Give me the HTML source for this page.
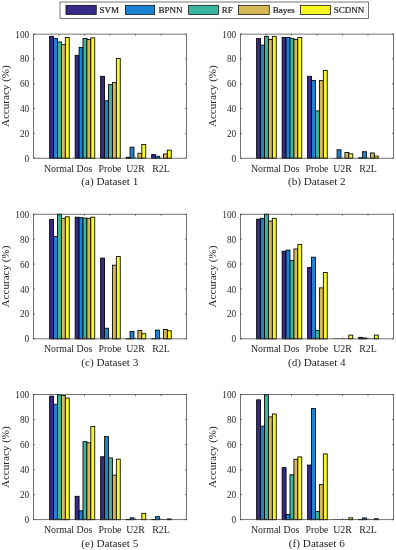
<!DOCTYPE html>
<html><head><meta charset="utf-8"><title>Accuracy comparison</title>
<style>html,body{margin:0;padding:0;background:#fff}svg{display:block}</style></head>
<body>
<svg width="396" height="550" viewBox="0 0 396 550" font-family="Liberation Serif, serif" fill="#262626">
<defs><filter id="bl" x="-5%" y="-5%" width="110%" height="110%"><feGaussianBlur stdDeviation="0.35"/></filter></defs>
<rect width="396" height="550" fill="#fff"/>
<rect x="60" y="2.0" width="308.5" height="16.5" fill="#fff" stroke="#555" stroke-width="0.8"/>
<rect x="65.95" y="5.3" width="30.299999999999997" height="9.100000000000001" fill="#352A87" stroke="#000" stroke-width="0.7"/>
<text x="99.5" y="12.7" font-size="9.0" stroke="#262626" stroke-width="0.22">SVM</text>
<rect x="125.35" y="5.3" width="29.30000000000001" height="9.100000000000001" fill="#1A82D2" stroke="#000" stroke-width="0.7"/>
<text x="158.6" y="12.7" font-size="9.0" stroke="#262626" stroke-width="0.22">BPNN</text>
<rect x="188.65" y="5.3" width="29.799999999999983" height="9.100000000000001" fill="#38B79E" stroke="#000" stroke-width="0.7"/>
<text x="221.8" y="12.7" font-size="9.0" stroke="#262626" stroke-width="0.22">RF</text>
<rect x="238.55" y="5.3" width="30.69999999999999" height="9.100000000000001" fill="#D6B857" stroke="#000" stroke-width="0.7"/>
<text x="272.8" y="12.7" font-size="9.0" stroke="#262626" stroke-width="0.22">Bayes</text>
<rect x="300.35" y="5.3" width="30.299999999999955" height="9.100000000000001" fill="#F9F824" stroke="#000" stroke-width="0.7"/>
<text x="333.8" y="12.7" font-size="9.0" stroke="#262626" stroke-width="0.22">SCDNN</text>
<g filter="url(#bl)">
<rect x="49.65" y="36.33" width="3.92" height="121.87" fill="#352A87" stroke="#000" stroke-width="0.85"/>
<rect x="53.57" y="38.57" width="3.92" height="119.63" fill="#1A82D2" stroke="#000" stroke-width="0.85"/>
<rect x="57.49" y="41.92" width="3.92" height="116.28" fill="#38B79E" stroke="#000" stroke-width="0.85"/>
<rect x="61.41" y="44.65" width="3.92" height="113.55" fill="#D6B857" stroke="#000" stroke-width="0.85"/>
<rect x="65.33" y="37.45" width="3.92" height="120.75" fill="#F9F824" stroke="#000" stroke-width="0.85"/>
<rect x="75.15" y="55.32" width="3.92" height="102.88" fill="#352A87" stroke="#000" stroke-width="0.85"/>
<rect x="79.07" y="47.38" width="3.92" height="110.82" fill="#1A82D2" stroke="#000" stroke-width="0.85"/>
<rect x="82.99" y="38.57" width="3.92" height="119.63" fill="#38B79E" stroke="#000" stroke-width="0.85"/>
<rect x="86.91" y="39.44" width="3.92" height="118.76" fill="#D6B857" stroke="#000" stroke-width="0.85"/>
<rect x="90.83" y="37.82" width="3.92" height="120.38" fill="#F9F824" stroke="#000" stroke-width="0.85"/>
<rect x="100.65" y="76.29" width="3.92" height="81.91" fill="#352A87" stroke="#000" stroke-width="0.85"/>
<rect x="104.57" y="100.74" width="3.92" height="57.46" fill="#1A82D2" stroke="#000" stroke-width="0.85"/>
<rect x="108.49" y="84.61" width="3.92" height="73.59" fill="#38B79E" stroke="#000" stroke-width="0.85"/>
<rect x="112.41" y="82.50" width="3.92" height="75.70" fill="#D6B857" stroke="#000" stroke-width="0.85"/>
<rect x="116.33" y="58.55" width="3.92" height="99.65" fill="#F9F824" stroke="#000" stroke-width="0.85"/>
<rect x="126.15" y="157.33" width="3.92" height="0.87" fill="#352A87" stroke="#000" stroke-width="0.85"/>
<rect x="130.07" y="147.16" width="3.92" height="11.04" fill="#1A82D2" stroke="#000" stroke-width="0.85"/>
<rect x="133.99" y="158.18" width="3.92" height="0.02" fill="#38B79E" stroke="#000" stroke-width="0.35"/>
<rect x="137.91" y="153.24" width="3.92" height="4.96" fill="#D6B857" stroke="#000" stroke-width="0.85"/>
<rect x="141.83" y="144.42" width="3.92" height="13.78" fill="#F9F824" stroke="#000" stroke-width="0.85"/>
<rect x="151.65" y="154.60" width="3.92" height="3.60" fill="#352A87" stroke="#000" stroke-width="0.85"/>
<rect x="155.57" y="156.21" width="3.92" height="1.99" fill="#1A82D2" stroke="#000" stroke-width="0.85"/>
<rect x="159.49" y="158.18" width="3.92" height="0.02" fill="#38B79E" stroke="#000" stroke-width="0.35"/>
<rect x="163.41" y="153.98" width="3.92" height="4.22" fill="#D6B857" stroke="#000" stroke-width="0.85"/>
<rect x="167.33" y="150.13" width="3.92" height="8.07" fill="#F9F824" stroke="#000" stroke-width="0.85"/>
</g>
<rect x="33.5" y="34.1" width="153.0" height="124.1" fill="none" stroke="#3a3a3a" stroke-width="0.7"/>
<path d="M59.00 158.2v-1.5M59.00 34.1v1.5M84.50 158.2v-1.5M84.50 34.1v1.5M110.00 158.2v-1.5M110.00 34.1v1.5M135.50 158.2v-1.5M135.50 34.1v1.5M161.00 158.2v-1.5M161.00 34.1v1.5M33.5 158.20h1.5M186.5 158.20h-1.5M33.5 133.38h1.5M186.5 133.38h-1.5M33.5 108.56h1.5M186.5 108.56h-1.5M33.5 83.74h1.5M186.5 83.74h-1.5M33.5 58.92h1.5M186.5 58.92h-1.5M33.5 34.10h1.5M186.5 34.10h-1.5" stroke="#3a3a3a" stroke-width="0.7" fill="none"/>
<text x="29.2" y="161.75" font-size="9.3" text-anchor="end">0</text>
<text x="29.2" y="136.93" font-size="9.3" text-anchor="end">20</text>
<text x="29.2" y="112.11" font-size="9.3" text-anchor="end">40</text>
<text x="29.2" y="87.29" font-size="9.3" text-anchor="end">60</text>
<text x="29.2" y="62.47" font-size="9.3" text-anchor="end">80</text>
<text x="29.2" y="37.65" font-size="9.3" text-anchor="end">100</text>
<text x="59.00" y="171.50" font-size="9.9" text-anchor="middle">Normal</text>
<text x="84.50" y="171.50" font-size="9.9" text-anchor="middle">Dos</text>
<text x="110.00" y="171.50" font-size="9.9" text-anchor="middle">Probe</text>
<text x="135.50" y="171.50" font-size="9.9" text-anchor="middle">U2R</text>
<text x="161.00" y="171.50" font-size="9.9" text-anchor="middle">R2L</text>
<text transform="translate(9.40 96.15) rotate(-90)" font-size="11.1" text-anchor="middle">Accuracy (%)</text>
<text x="109.80" y="185.05" font-size="11.2" text-anchor="middle">(a) Dataset 1</text>
<g filter="url(#bl)">
<rect x="256.65" y="38.57" width="3.92" height="119.63" fill="#352A87" stroke="#000" stroke-width="0.85"/>
<rect x="260.57" y="45.14" width="3.92" height="113.06" fill="#1A82D2" stroke="#000" stroke-width="0.85"/>
<rect x="264.49" y="36.33" width="3.92" height="121.87" fill="#38B79E" stroke="#000" stroke-width="0.85"/>
<rect x="268.41" y="39.44" width="3.92" height="118.76" fill="#D6B857" stroke="#000" stroke-width="0.85"/>
<rect x="272.33" y="36.33" width="3.92" height="121.87" fill="#F9F824" stroke="#000" stroke-width="0.85"/>
<rect x="282.15" y="37.57" width="3.92" height="120.63" fill="#352A87" stroke="#000" stroke-width="0.85"/>
<rect x="286.07" y="37.45" width="3.92" height="120.75" fill="#1A82D2" stroke="#000" stroke-width="0.85"/>
<rect x="289.99" y="38.32" width="3.92" height="119.88" fill="#38B79E" stroke="#000" stroke-width="0.85"/>
<rect x="293.91" y="39.44" width="3.92" height="118.76" fill="#D6B857" stroke="#000" stroke-width="0.85"/>
<rect x="297.83" y="37.45" width="3.92" height="120.75" fill="#F9F824" stroke="#000" stroke-width="0.85"/>
<rect x="307.65" y="76.29" width="3.92" height="81.91" fill="#352A87" stroke="#000" stroke-width="0.85"/>
<rect x="311.57" y="80.39" width="3.92" height="77.81" fill="#1A82D2" stroke="#000" stroke-width="0.85"/>
<rect x="315.49" y="110.92" width="3.92" height="47.28" fill="#38B79E" stroke="#000" stroke-width="0.85"/>
<rect x="319.41" y="80.39" width="3.92" height="77.81" fill="#D6B857" stroke="#000" stroke-width="0.85"/>
<rect x="323.33" y="70.34" width="3.92" height="87.86" fill="#F9F824" stroke="#000" stroke-width="0.85"/>
<rect x="333.15" y="158.18" width="3.92" height="0.02" fill="#352A87" stroke="#000" stroke-width="0.35"/>
<rect x="337.07" y="149.76" width="3.92" height="8.44" fill="#1A82D2" stroke="#000" stroke-width="0.85"/>
<rect x="340.99" y="158.18" width="3.92" height="0.02" fill="#38B79E" stroke="#000" stroke-width="0.35"/>
<rect x="344.91" y="152.49" width="3.92" height="5.71" fill="#D6B857" stroke="#000" stroke-width="0.85"/>
<rect x="348.83" y="153.86" width="3.92" height="4.34" fill="#F9F824" stroke="#000" stroke-width="0.85"/>
<rect x="358.65" y="157.83" width="3.92" height="0.37" fill="#352A87" stroke="#000" stroke-width="0.85"/>
<rect x="362.57" y="151.75" width="3.92" height="6.45" fill="#1A82D2" stroke="#000" stroke-width="0.85"/>
<rect x="366.49" y="158.18" width="3.92" height="0.02" fill="#38B79E" stroke="#000" stroke-width="0.35"/>
<rect x="370.41" y="152.99" width="3.92" height="5.21" fill="#D6B857" stroke="#000" stroke-width="0.85"/>
<rect x="374.33" y="156.09" width="3.92" height="2.11" fill="#F9F824" stroke="#000" stroke-width="0.85"/>
</g>
<rect x="240.5" y="34.1" width="153.0" height="124.1" fill="none" stroke="#3a3a3a" stroke-width="0.7"/>
<path d="M266.00 158.2v-1.5M266.00 34.1v1.5M291.50 158.2v-1.5M291.50 34.1v1.5M317.00 158.2v-1.5M317.00 34.1v1.5M342.50 158.2v-1.5M342.50 34.1v1.5M368.00 158.2v-1.5M368.00 34.1v1.5M240.5 158.20h1.5M393.5 158.20h-1.5M240.5 133.38h1.5M393.5 133.38h-1.5M240.5 108.56h1.5M393.5 108.56h-1.5M240.5 83.74h1.5M393.5 83.74h-1.5M240.5 58.92h1.5M393.5 58.92h-1.5M240.5 34.10h1.5M393.5 34.10h-1.5" stroke="#3a3a3a" stroke-width="0.7" fill="none"/>
<text x="236.2" y="161.75" font-size="9.3" text-anchor="end">0</text>
<text x="236.2" y="136.93" font-size="9.3" text-anchor="end">20</text>
<text x="236.2" y="112.11" font-size="9.3" text-anchor="end">40</text>
<text x="236.2" y="87.29" font-size="9.3" text-anchor="end">60</text>
<text x="236.2" y="62.47" font-size="9.3" text-anchor="end">80</text>
<text x="236.2" y="37.65" font-size="9.3" text-anchor="end">100</text>
<text x="266.00" y="171.50" font-size="9.9" text-anchor="middle">Normal</text>
<text x="291.50" y="171.50" font-size="9.9" text-anchor="middle">Dos</text>
<text x="317.00" y="171.50" font-size="9.9" text-anchor="middle">Probe</text>
<text x="342.50" y="171.50" font-size="9.9" text-anchor="middle">U2R</text>
<text x="368.00" y="171.50" font-size="9.9" text-anchor="middle">R2L</text>
<text transform="translate(216.40 96.15) rotate(-90)" font-size="11.1" text-anchor="middle">Accuracy (%)</text>
<text x="316.80" y="185.05" font-size="11.2" text-anchor="middle">(b) Dataset 2</text>
<g filter="url(#bl)">
<rect x="49.65" y="219.56" width="3.92" height="119.29" fill="#352A87" stroke="#000" stroke-width="0.85"/>
<rect x="53.57" y="236.51" width="3.92" height="102.34" fill="#1A82D2" stroke="#000" stroke-width="0.85"/>
<rect x="57.49" y="214.20" width="3.92" height="124.65" fill="#38B79E" stroke="#000" stroke-width="0.85"/>
<rect x="61.41" y="218.31" width="3.92" height="120.54" fill="#D6B857" stroke="#000" stroke-width="0.85"/>
<rect x="65.33" y="216.82" width="3.92" height="122.03" fill="#F9F824" stroke="#000" stroke-width="0.85"/>
<rect x="75.15" y="217.19" width="3.92" height="121.66" fill="#352A87" stroke="#000" stroke-width="0.85"/>
<rect x="79.07" y="217.69" width="3.92" height="121.16" fill="#1A82D2" stroke="#000" stroke-width="0.85"/>
<rect x="82.99" y="218.06" width="3.92" height="120.79" fill="#38B79E" stroke="#000" stroke-width="0.85"/>
<rect x="86.91" y="218.31" width="3.92" height="120.54" fill="#D6B857" stroke="#000" stroke-width="0.85"/>
<rect x="90.83" y="217.19" width="3.92" height="121.66" fill="#F9F824" stroke="#000" stroke-width="0.85"/>
<rect x="100.65" y="258.08" width="3.92" height="80.77" fill="#352A87" stroke="#000" stroke-width="0.85"/>
<rect x="104.57" y="328.25" width="3.92" height="10.60" fill="#1A82D2" stroke="#000" stroke-width="0.85"/>
<rect x="108.49" y="338.83" width="3.92" height="0.02" fill="#38B79E" stroke="#000" stroke-width="0.35"/>
<rect x="112.41" y="265.18" width="3.92" height="73.67" fill="#D6B857" stroke="#000" stroke-width="0.85"/>
<rect x="116.33" y="256.58" width="3.92" height="82.27" fill="#F9F824" stroke="#000" stroke-width="0.85"/>
<rect x="126.15" y="338.66" width="3.92" height="0.19" fill="#352A87" stroke="#000" stroke-width="0.85"/>
<rect x="130.07" y="331.37" width="3.92" height="7.48" fill="#1A82D2" stroke="#000" stroke-width="0.85"/>
<rect x="133.99" y="338.83" width="3.92" height="0.02" fill="#38B79E" stroke="#000" stroke-width="0.35"/>
<rect x="137.91" y="330.37" width="3.92" height="8.48" fill="#D6B857" stroke="#000" stroke-width="0.85"/>
<rect x="141.83" y="333.74" width="3.92" height="5.11" fill="#F9F824" stroke="#000" stroke-width="0.85"/>
<rect x="151.65" y="338.66" width="3.92" height="0.19" fill="#352A87" stroke="#000" stroke-width="0.85"/>
<rect x="155.57" y="330.12" width="3.92" height="8.73" fill="#1A82D2" stroke="#000" stroke-width="0.85"/>
<rect x="159.49" y="338.83" width="3.92" height="0.02" fill="#38B79E" stroke="#000" stroke-width="0.35"/>
<rect x="163.41" y="329.50" width="3.92" height="9.35" fill="#D6B857" stroke="#000" stroke-width="0.85"/>
<rect x="167.33" y="330.75" width="3.92" height="8.10" fill="#F9F824" stroke="#000" stroke-width="0.85"/>
</g>
<rect x="33.5" y="214.2" width="153.0" height="124.65000000000003" fill="none" stroke="#3a3a3a" stroke-width="0.7"/>
<path d="M59.00 338.85v-1.5M59.00 214.2v1.5M84.50 338.85v-1.5M84.50 214.2v1.5M110.00 338.85v-1.5M110.00 214.2v1.5M135.50 338.85v-1.5M135.50 214.2v1.5M161.00 338.85v-1.5M161.00 214.2v1.5M33.5 338.85h1.5M186.5 338.85h-1.5M33.5 313.92h1.5M186.5 313.92h-1.5M33.5 288.99h1.5M186.5 288.99h-1.5M33.5 264.06h1.5M186.5 264.06h-1.5M33.5 239.13h1.5M186.5 239.13h-1.5M33.5 214.20h1.5M186.5 214.20h-1.5" stroke="#3a3a3a" stroke-width="0.7" fill="none"/>
<text x="29.2" y="342.40" font-size="9.3" text-anchor="end">0</text>
<text x="29.2" y="317.47" font-size="9.3" text-anchor="end">20</text>
<text x="29.2" y="292.54" font-size="9.3" text-anchor="end">40</text>
<text x="29.2" y="267.61" font-size="9.3" text-anchor="end">60</text>
<text x="29.2" y="242.68" font-size="9.3" text-anchor="end">80</text>
<text x="29.2" y="217.75" font-size="9.3" text-anchor="end">100</text>
<text x="59.00" y="352.15" font-size="9.9" text-anchor="middle">Normal</text>
<text x="84.50" y="352.15" font-size="9.9" text-anchor="middle">Dos</text>
<text x="110.00" y="352.15" font-size="9.9" text-anchor="middle">Probe</text>
<text x="135.50" y="352.15" font-size="9.9" text-anchor="middle">U2R</text>
<text x="161.00" y="352.15" font-size="9.9" text-anchor="middle">R2L</text>
<text transform="translate(9.40 276.52) rotate(-90)" font-size="11.1" text-anchor="middle">Accuracy (%)</text>
<text x="109.80" y="365.70" font-size="11.2" text-anchor="middle">(c) Dataset 3</text>
<g filter="url(#bl)">
<rect x="256.65" y="219.19" width="3.92" height="119.66" fill="#352A87" stroke="#000" stroke-width="0.85"/>
<rect x="260.57" y="218.31" width="3.92" height="120.54" fill="#1A82D2" stroke="#000" stroke-width="0.85"/>
<rect x="264.49" y="214.20" width="3.92" height="124.65" fill="#38B79E" stroke="#000" stroke-width="0.85"/>
<rect x="268.41" y="221.06" width="3.92" height="117.79" fill="#D6B857" stroke="#000" stroke-width="0.85"/>
<rect x="272.33" y="218.31" width="3.92" height="120.54" fill="#F9F824" stroke="#000" stroke-width="0.85"/>
<rect x="282.15" y="251.22" width="3.92" height="87.63" fill="#352A87" stroke="#000" stroke-width="0.85"/>
<rect x="286.07" y="250.10" width="3.92" height="88.75" fill="#1A82D2" stroke="#000" stroke-width="0.85"/>
<rect x="289.99" y="260.32" width="3.92" height="78.53" fill="#38B79E" stroke="#000" stroke-width="0.85"/>
<rect x="293.91" y="248.98" width="3.92" height="89.87" fill="#D6B857" stroke="#000" stroke-width="0.85"/>
<rect x="297.83" y="244.37" width="3.92" height="94.48" fill="#F9F824" stroke="#000" stroke-width="0.85"/>
<rect x="307.65" y="267.43" width="3.92" height="71.42" fill="#352A87" stroke="#000" stroke-width="0.85"/>
<rect x="311.57" y="257.20" width="3.92" height="81.65" fill="#1A82D2" stroke="#000" stroke-width="0.85"/>
<rect x="315.49" y="330.50" width="3.92" height="8.35" fill="#38B79E" stroke="#000" stroke-width="0.85"/>
<rect x="319.41" y="287.87" width="3.92" height="50.98" fill="#D6B857" stroke="#000" stroke-width="0.85"/>
<rect x="323.33" y="272.54" width="3.92" height="66.31" fill="#F9F824" stroke="#000" stroke-width="0.85"/>
<rect x="333.15" y="338.83" width="3.92" height="0.02" fill="#352A87" stroke="#000" stroke-width="0.35"/>
<rect x="337.07" y="338.83" width="3.92" height="0.02" fill="#1A82D2" stroke="#000" stroke-width="0.35"/>
<rect x="340.99" y="338.83" width="3.92" height="0.02" fill="#38B79E" stroke="#000" stroke-width="0.35"/>
<rect x="344.91" y="338.83" width="3.92" height="0.02" fill="#D6B857" stroke="#000" stroke-width="0.35"/>
<rect x="348.83" y="335.11" width="3.92" height="3.74" fill="#F9F824" stroke="#000" stroke-width="0.85"/>
<rect x="358.65" y="337.35" width="3.92" height="1.50" fill="#352A87" stroke="#000" stroke-width="0.85"/>
<rect x="362.57" y="337.98" width="3.92" height="0.87" fill="#1A82D2" stroke="#000" stroke-width="0.85"/>
<rect x="366.49" y="338.83" width="3.92" height="0.02" fill="#38B79E" stroke="#000" stroke-width="0.35"/>
<rect x="370.41" y="338.83" width="3.92" height="0.02" fill="#D6B857" stroke="#000" stroke-width="0.35"/>
<rect x="374.33" y="335.11" width="3.92" height="3.74" fill="#F9F824" stroke="#000" stroke-width="0.85"/>
</g>
<rect x="240.5" y="214.2" width="153.0" height="124.65000000000003" fill="none" stroke="#3a3a3a" stroke-width="0.7"/>
<path d="M266.00 338.85v-1.5M266.00 214.2v1.5M291.50 338.85v-1.5M291.50 214.2v1.5M317.00 338.85v-1.5M317.00 214.2v1.5M342.50 338.85v-1.5M342.50 214.2v1.5M368.00 338.85v-1.5M368.00 214.2v1.5M240.5 338.85h1.5M393.5 338.85h-1.5M240.5 313.92h1.5M393.5 313.92h-1.5M240.5 288.99h1.5M393.5 288.99h-1.5M240.5 264.06h1.5M393.5 264.06h-1.5M240.5 239.13h1.5M393.5 239.13h-1.5M240.5 214.20h1.5M393.5 214.20h-1.5" stroke="#3a3a3a" stroke-width="0.7" fill="none"/>
<text x="236.2" y="342.40" font-size="9.3" text-anchor="end">0</text>
<text x="236.2" y="317.47" font-size="9.3" text-anchor="end">20</text>
<text x="236.2" y="292.54" font-size="9.3" text-anchor="end">40</text>
<text x="236.2" y="267.61" font-size="9.3" text-anchor="end">60</text>
<text x="236.2" y="242.68" font-size="9.3" text-anchor="end">80</text>
<text x="236.2" y="217.75" font-size="9.3" text-anchor="end">100</text>
<text x="266.00" y="352.15" font-size="9.9" text-anchor="middle">Normal</text>
<text x="291.50" y="352.15" font-size="9.9" text-anchor="middle">Dos</text>
<text x="317.00" y="352.15" font-size="9.9" text-anchor="middle">Probe</text>
<text x="342.50" y="352.15" font-size="9.9" text-anchor="middle">U2R</text>
<text x="368.00" y="352.15" font-size="9.9" text-anchor="middle">R2L</text>
<text transform="translate(216.40 276.52) rotate(-90)" font-size="11.1" text-anchor="middle">Accuracy (%)</text>
<text x="316.80" y="365.70" font-size="11.2" text-anchor="middle">(d) Dataset 4</text>
<g filter="url(#bl)">
<rect x="49.65" y="396.10" width="3.92" height="123.60" fill="#352A87" stroke="#000" stroke-width="0.85"/>
<rect x="53.57" y="404.23" width="3.92" height="115.47" fill="#1A82D2" stroke="#000" stroke-width="0.85"/>
<rect x="57.49" y="394.60" width="3.92" height="125.10" fill="#38B79E" stroke="#000" stroke-width="0.85"/>
<rect x="61.41" y="395.48" width="3.92" height="124.22" fill="#D6B857" stroke="#000" stroke-width="0.85"/>
<rect x="65.33" y="398.10" width="3.92" height="121.60" fill="#F9F824" stroke="#000" stroke-width="0.85"/>
<rect x="75.15" y="496.31" width="3.92" height="23.39" fill="#352A87" stroke="#000" stroke-width="0.85"/>
<rect x="79.07" y="510.82" width="3.92" height="8.88" fill="#1A82D2" stroke="#000" stroke-width="0.85"/>
<rect x="82.99" y="441.64" width="3.92" height="78.06" fill="#38B79E" stroke="#000" stroke-width="0.85"/>
<rect x="86.91" y="442.76" width="3.92" height="76.94" fill="#D6B857" stroke="#000" stroke-width="0.85"/>
<rect x="90.83" y="426.38" width="3.92" height="93.32" fill="#F9F824" stroke="#000" stroke-width="0.85"/>
<rect x="100.65" y="456.77" width="3.92" height="62.93" fill="#352A87" stroke="#000" stroke-width="0.85"/>
<rect x="104.57" y="436.63" width="3.92" height="83.07" fill="#1A82D2" stroke="#000" stroke-width="0.85"/>
<rect x="108.49" y="457.90" width="3.92" height="61.80" fill="#38B79E" stroke="#000" stroke-width="0.85"/>
<rect x="112.41" y="475.16" width="3.92" height="44.54" fill="#D6B857" stroke="#000" stroke-width="0.85"/>
<rect x="116.33" y="459.15" width="3.92" height="60.55" fill="#F9F824" stroke="#000" stroke-width="0.85"/>
<rect x="126.15" y="519.45" width="3.92" height="0.25" fill="#352A87" stroke="#000" stroke-width="0.85"/>
<rect x="130.07" y="517.82" width="3.92" height="1.88" fill="#1A82D2" stroke="#000" stroke-width="0.85"/>
<rect x="133.99" y="519.68" width="3.92" height="0.02" fill="#38B79E" stroke="#000" stroke-width="0.35"/>
<rect x="137.91" y="519.68" width="3.92" height="0.02" fill="#D6B857" stroke="#000" stroke-width="0.35"/>
<rect x="141.83" y="513.32" width="3.92" height="6.38" fill="#F9F824" stroke="#000" stroke-width="0.85"/>
<rect x="151.65" y="519.45" width="3.92" height="0.25" fill="#352A87" stroke="#000" stroke-width="0.85"/>
<rect x="155.57" y="516.70" width="3.92" height="3.00" fill="#1A82D2" stroke="#000" stroke-width="0.85"/>
<rect x="159.49" y="519.68" width="3.92" height="0.02" fill="#38B79E" stroke="#000" stroke-width="0.35"/>
<rect x="163.41" y="519.68" width="3.92" height="0.02" fill="#D6B857" stroke="#000" stroke-width="0.35"/>
<rect x="167.33" y="518.95" width="3.92" height="0.75" fill="#F9F824" stroke="#000" stroke-width="0.85"/>
</g>
<rect x="33.5" y="394.6" width="153.0" height="125.10000000000002" fill="none" stroke="#3a3a3a" stroke-width="0.7"/>
<path d="M59.00 519.7v-1.5M59.00 394.6v1.5M84.50 519.7v-1.5M84.50 394.6v1.5M110.00 519.7v-1.5M110.00 394.6v1.5M135.50 519.7v-1.5M135.50 394.6v1.5M161.00 519.7v-1.5M161.00 394.6v1.5M33.5 519.70h1.5M186.5 519.70h-1.5M33.5 494.68h1.5M186.5 494.68h-1.5M33.5 469.66h1.5M186.5 469.66h-1.5M33.5 444.64h1.5M186.5 444.64h-1.5M33.5 419.62h1.5M186.5 419.62h-1.5M33.5 394.60h1.5M186.5 394.60h-1.5" stroke="#3a3a3a" stroke-width="0.7" fill="none"/>
<text x="29.2" y="523.25" font-size="9.3" text-anchor="end">0</text>
<text x="29.2" y="498.23" font-size="9.3" text-anchor="end">20</text>
<text x="29.2" y="473.21" font-size="9.3" text-anchor="end">40</text>
<text x="29.2" y="448.19" font-size="9.3" text-anchor="end">60</text>
<text x="29.2" y="423.17" font-size="9.3" text-anchor="end">80</text>
<text x="29.2" y="398.15" font-size="9.3" text-anchor="end">100</text>
<text x="59.00" y="533.00" font-size="9.9" text-anchor="middle">Normal</text>
<text x="84.50" y="533.00" font-size="9.9" text-anchor="middle">Dos</text>
<text x="110.00" y="533.00" font-size="9.9" text-anchor="middle">Probe</text>
<text x="135.50" y="533.00" font-size="9.9" text-anchor="middle">U2R</text>
<text x="161.00" y="533.00" font-size="9.9" text-anchor="middle">R2L</text>
<text transform="translate(9.40 457.15) rotate(-90)" font-size="11.1" text-anchor="middle">Accuracy (%)</text>
<text x="109.80" y="546.55" font-size="11.2" text-anchor="middle">(e) Dataset 5</text>
<g filter="url(#bl)">
<rect x="256.65" y="399.85" width="3.92" height="119.85" fill="#352A87" stroke="#000" stroke-width="0.85"/>
<rect x="260.57" y="426.13" width="3.92" height="93.57" fill="#1A82D2" stroke="#000" stroke-width="0.85"/>
<rect x="264.49" y="394.60" width="3.92" height="125.10" fill="#38B79E" stroke="#000" stroke-width="0.85"/>
<rect x="268.41" y="416.87" width="3.92" height="102.83" fill="#D6B857" stroke="#000" stroke-width="0.85"/>
<rect x="272.33" y="413.99" width="3.92" height="105.71" fill="#F9F824" stroke="#000" stroke-width="0.85"/>
<rect x="282.15" y="467.66" width="3.92" height="52.04" fill="#352A87" stroke="#000" stroke-width="0.85"/>
<rect x="286.07" y="514.57" width="3.92" height="5.13" fill="#1A82D2" stroke="#000" stroke-width="0.85"/>
<rect x="289.99" y="474.79" width="3.92" height="44.91" fill="#38B79E" stroke="#000" stroke-width="0.85"/>
<rect x="293.91" y="459.28" width="3.92" height="60.42" fill="#D6B857" stroke="#000" stroke-width="0.85"/>
<rect x="297.83" y="456.90" width="3.92" height="62.80" fill="#F9F824" stroke="#000" stroke-width="0.85"/>
<rect x="307.65" y="465.03" width="3.92" height="54.67" fill="#352A87" stroke="#000" stroke-width="0.85"/>
<rect x="311.57" y="408.49" width="3.92" height="111.21" fill="#1A82D2" stroke="#000" stroke-width="0.85"/>
<rect x="315.49" y="511.57" width="3.92" height="8.13" fill="#38B79E" stroke="#000" stroke-width="0.85"/>
<rect x="319.41" y="484.67" width="3.92" height="35.03" fill="#D6B857" stroke="#000" stroke-width="0.85"/>
<rect x="323.33" y="453.90" width="3.92" height="65.80" fill="#F9F824" stroke="#000" stroke-width="0.85"/>
<rect x="333.15" y="519.68" width="3.92" height="0.02" fill="#352A87" stroke="#000" stroke-width="0.35"/>
<rect x="337.07" y="519.68" width="3.92" height="0.02" fill="#1A82D2" stroke="#000" stroke-width="0.35"/>
<rect x="340.99" y="519.68" width="3.92" height="0.02" fill="#38B79E" stroke="#000" stroke-width="0.35"/>
<rect x="344.91" y="519.68" width="3.92" height="0.02" fill="#D6B857" stroke="#000" stroke-width="0.35"/>
<rect x="348.83" y="517.82" width="3.92" height="1.88" fill="#F9F824" stroke="#000" stroke-width="0.85"/>
<rect x="358.65" y="519.45" width="3.92" height="0.25" fill="#352A87" stroke="#000" stroke-width="0.85"/>
<rect x="362.57" y="517.95" width="3.92" height="1.75" fill="#1A82D2" stroke="#000" stroke-width="0.85"/>
<rect x="366.49" y="519.68" width="3.92" height="0.02" fill="#38B79E" stroke="#000" stroke-width="0.35"/>
<rect x="370.41" y="519.68" width="3.92" height="0.02" fill="#D6B857" stroke="#000" stroke-width="0.35"/>
<rect x="374.33" y="518.70" width="3.92" height="1.00" fill="#F9F824" stroke="#000" stroke-width="0.85"/>
</g>
<rect x="240.5" y="394.6" width="153.0" height="125.10000000000002" fill="none" stroke="#3a3a3a" stroke-width="0.7"/>
<path d="M266.00 519.7v-1.5M266.00 394.6v1.5M291.50 519.7v-1.5M291.50 394.6v1.5M317.00 519.7v-1.5M317.00 394.6v1.5M342.50 519.7v-1.5M342.50 394.6v1.5M368.00 519.7v-1.5M368.00 394.6v1.5M240.5 519.70h1.5M393.5 519.70h-1.5M240.5 494.68h1.5M393.5 494.68h-1.5M240.5 469.66h1.5M393.5 469.66h-1.5M240.5 444.64h1.5M393.5 444.64h-1.5M240.5 419.62h1.5M393.5 419.62h-1.5M240.5 394.60h1.5M393.5 394.60h-1.5" stroke="#3a3a3a" stroke-width="0.7" fill="none"/>
<text x="236.2" y="523.25" font-size="9.3" text-anchor="end">0</text>
<text x="236.2" y="498.23" font-size="9.3" text-anchor="end">20</text>
<text x="236.2" y="473.21" font-size="9.3" text-anchor="end">40</text>
<text x="236.2" y="448.19" font-size="9.3" text-anchor="end">60</text>
<text x="236.2" y="423.17" font-size="9.3" text-anchor="end">80</text>
<text x="236.2" y="398.15" font-size="9.3" text-anchor="end">100</text>
<text x="266.00" y="533.00" font-size="9.9" text-anchor="middle">Normal</text>
<text x="291.50" y="533.00" font-size="9.9" text-anchor="middle">Dos</text>
<text x="317.00" y="533.00" font-size="9.9" text-anchor="middle">Probe</text>
<text x="342.50" y="533.00" font-size="9.9" text-anchor="middle">U2R</text>
<text x="368.00" y="533.00" font-size="9.9" text-anchor="middle">R2L</text>
<text transform="translate(216.40 457.15) rotate(-90)" font-size="11.1" text-anchor="middle">Accuracy (%)</text>
<text x="316.80" y="546.55" font-size="11.2" text-anchor="middle">(f) Dataset 6</text>
</svg>
</body></html>
